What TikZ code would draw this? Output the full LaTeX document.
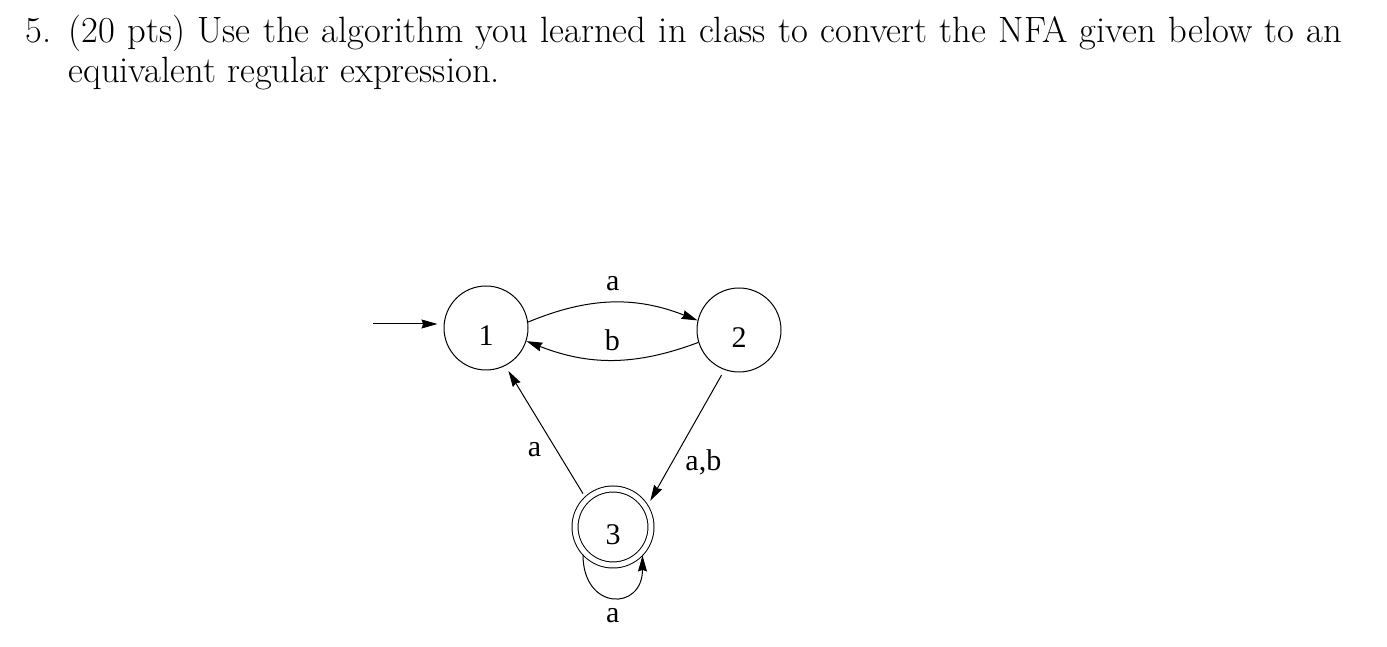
\documentclass[tikz,border=0pt]{standalone}
\usepackage{fontspec}
\newfontfamily\figfont{Liberation Serif}
\usepackage{tikz}
\usetikzlibrary{arrows.meta}

\begin{document}
\begin{tikzpicture}[x=0.5pt, y=0.5pt, line width=0.5pt,
    >={Stealth[length=8pt, width=4.5pt, inset=0.8pt]},
    title/.style={anchor=base west, inner sep=0pt, font=\fontsize{18.3}{20}\selectfont},
    st/.style={circle, draw, minimum size=42pt, inner sep=0pt, text height=18pt, text depth=0pt, font=\figfont\fontsize{15}{18}\selectfont},
    acc/.style={double, double distance=2.5pt, minimum size=38pt, outer sep=1.5pt},
    lbl/.style={font=\figfont\fontsize{15}{18}\selectfont}]
    \useasboundingbox (0,0) rectangle (1387,647);
    \node[title] (N) at (25,604){5.};
    \node[title] (Q1) at (68,604){\makebox[637pt][s]{(20 pts) Use the algorithm you learned in class to convert the NFA given below to an}};
    \node[title] (Q2) at (68,564){equivalent regular expression.};
    \node[st] (S1) at (486,319){1};
    \node[st] (S2) at (739,317){2};
    \node[st, acc] (S3) at (613,120){3};
    \coordinate (I) at (373,323);
    \draw[->, shorten >=3pt] (I)--(I -| S1.west);
    \draw[->] (S1.8) to[bend left=22] node[midway, above=2.5pt, lbl]{a} (S2.167);
    \draw[->] (S2.197) to[bend left=21] node[midway, above=1pt, lbl]{b} (S1.342);
    \draw[->, shorten <=2pt, shorten >=3pt] (S3.133)--(S1.297) node[pos=0.36, left=4pt, lbl]{a};
    \draw[->, shorten <=3pt, shorten >=2.5pt] (S2.250)--(S3.32) node[pos=0.68, right=3pt, lbl]{a,b};
    \draw[->] (S3.223) to[out=270, in=270, looseness=2.4] node[midway, below=2pt, lbl]{a} (S3.316);
  \end{tikzpicture}
\end{document}
